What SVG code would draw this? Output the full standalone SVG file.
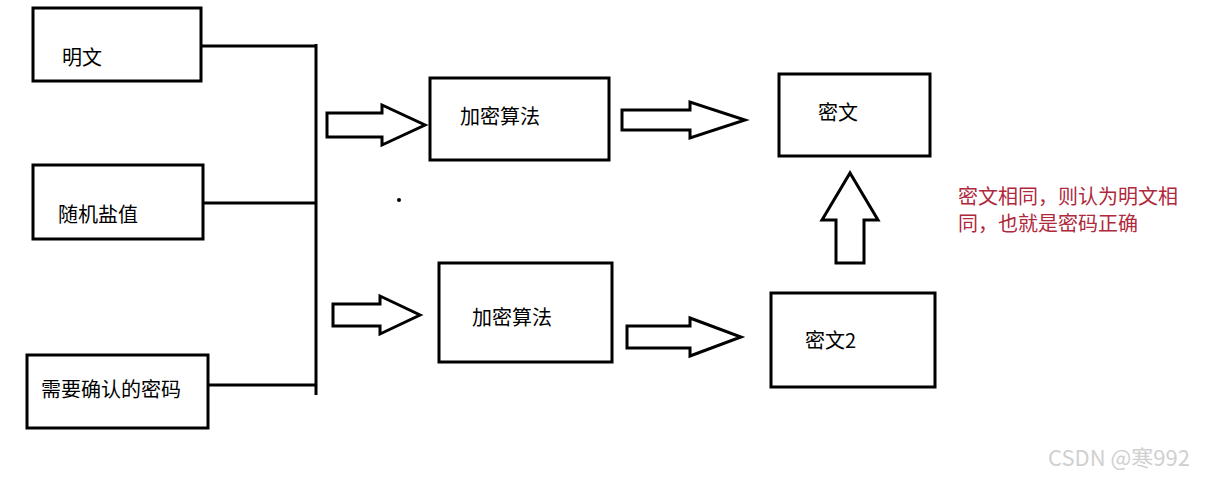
<svg xmlns="http://www.w3.org/2000/svg" width="1205" height="477" viewBox="0 0 1205 477">
<style>
.b{fill:#fff;stroke:#000;stroke-width:3}
.t{font-family:"Noto Sans CJK SC","Liberation Sans",sans-serif;font-size:20px;fill:#000}
.a{fill:#fff;stroke:#000;stroke-width:3;stroke-linejoin:miter}
.l{stroke:#000;stroke-width:3;fill:none}
</style>
<rect width="1205" height="477" fill="#fff"/>
<g id="n1"><rect class="b" x="33" y="8" width="168" height="73"/><text class="t" x="62" y="65">明文</text></g>
<g id="n2"><rect class="b" x="33" y="165" width="170" height="74"/><text class="t" x="58" y="222">随机盐值</text></g>
<g id="n3"><rect class="b" x="27" y="355" width="181" height="73"/><text class="t" x="41" y="397">需要确认的密码</text></g>
<g id="n4"><rect class="b" x="430" y="78" width="179" height="82"/><text class="t" x="460" y="124">加密算法</text></g>
<g id="n5"><rect class="b" x="439" y="263" width="173" height="99"/><text class="t" x="472" y="325">加密算法</text></g>
<g id="n6"><rect class="b" x="779" y="74" width="151" height="82"/><text class="t" x="818" y="120">密文</text></g>
<g id="n7"><rect class="b" x="771" y="293" width="164" height="94"/><text class="t" x="805" y="348">密文2</text></g>
<g id="connectors">
<path class="l" d="M316 44V395M201 46H316M203 203H316M208 385H316"/>
<polygon class="a" points="327,113 382,113 382,105 425,125 382,145 382,137 327,137"/>
<polygon class="a" points="333,304 380,304 380,296 420,315 380,334 380,326 333,326"/>
<polygon class="a" points="622,110 690,110 690,102 745,120 690,138 690,130 622,130"/>
<polygon class="a" points="627,326 690,326 690,318 741,337 690,356 690,348 627,348"/>
<polygon class="a" points="836,263 836,220 822,220 850,173 878,220 864,220 864,263"/>
<circle cx="399" cy="200" r="2" fill="#000"/>
</g>
<text x="958" y="204" font-family="Noto Sans CJK SC,sans-serif" font-size="20" fill="#b0283c">密文相同，则认为明文相</text>
<text x="958" y="231" font-family="Noto Sans CJK SC,sans-serif" font-size="20" fill="#b0283c">同，也就是密码正确</text>
<text x="1048" y="466" font-family="Noto Sans CJK SC,sans-serif" font-size="22" fill="#d0d0d0">CSDN @寒992</text>
</svg>
